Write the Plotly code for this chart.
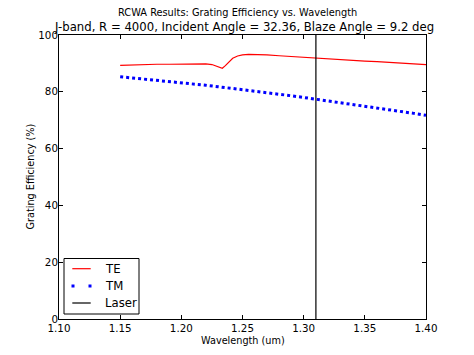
import plotly.graph_objects as go

te_wl = [1.15, 1.16, 1.17, 1.18, 1.19, 1.20, 1.21, 1.22, 1.225, 1.228, 1.231, 1.2335,
         1.236, 1.239, 1.242, 1.246, 1.25, 1.255, 1.26, 1.27, 1.28, 1.29, 1.30, 1.31,
         1.32, 1.33, 1.34, 1.35, 1.36, 1.37, 1.38, 1.39, 1.40]
te_eff = [89.3, 89.5, 89.6, 89.7, 89.7, 89.8, 89.8, 89.8, 89.6, 89.2, 88.6, 88.3,
          89.2, 90.6, 91.8, 92.6, 93.0, 93.2, 93.2, 93.0, 92.7, 92.4, 92.1, 91.8,
          91.5, 91.3, 91.1, 90.8, 90.6, 90.4, 90.1, 89.9, 89.6]

tm_wl = [1.15, 1.16, 1.17, 1.18, 1.19, 1.20, 1.21, 1.22, 1.23, 1.24, 1.25, 1.26, 1.27,
         1.28, 1.29, 1.30, 1.31, 1.32, 1.33, 1.34, 1.35, 1.36, 1.37, 1.38, 1.39, 1.40]
tm_eff = [85.3, 84.9, 84.5, 84.0, 83.6, 83.2, 82.7, 82.3, 81.8, 81.3, 80.8, 80.3, 79.7,
          79.2, 78.6, 78.0, 77.4, 76.8, 76.2, 75.6, 75.0, 74.4, 73.7, 73.0, 72.4, 71.7]

laser_wl = [1.31, 1.31]
laser_eff = [0, 100]

series_names = ["TE", "TM", "Laser"]

x_ticks = [1.10, 1.15, 1.20, 1.25, 1.30, 1.35, 1.40]
x_ticklabels = ["1.10", "1.15", "1.20", "1.25", "1.30", "1.35", "1.40"]
y_ticks = [0, 20, 40, 60, 80, 100]

FONT = "DejaVu Sans"
W, H = 474, 355
ML, MR, MT, MB = 59, 48, 35, 36

styles = [
    dict(color="#ff0000", width=1.2),
    dict(color="#0000ff", width=3, dash="dot"),
    dict(color="black", width=1.2),
]

fig = go.Figure()
for name, xs, ys, st in zip(series_names, [te_wl, tm_wl, laser_wl],
                            [te_eff, tm_eff, laser_eff], styles):
    fig.add_trace(go.Scatter(x=xs, y=ys, mode="lines", name=name, line=st,
                             showlegend=False))

axis_common = dict(showline=True, linecolor="black", linewidth=1, mirror="ticks",
                   ticks="inside", ticklen=4, tickcolor="black", showgrid=False,
                   zeroline=False, tickfont=dict(family=FONT, size=10.3, color="black"))

fig.update_layout(
    width=W, height=H,
    margin=dict(l=ML, r=MR, t=MT, b=MB),
    paper_bgcolor="white", plot_bgcolor="white",
    font=dict(family=FONT, color="black"),
    showlegend=False,
    xaxis=dict(range=[1.10, 1.40], tickvals=x_ticks, ticktext=x_ticklabels, **axis_common),
    yaxis=dict(range=[0, 100], tickvals=y_ticks, ticklabelstandoff=-2, **axis_common),
)

pw, ph = W - ML - MR, H - MT - MB
def px(x):
    return (x - ML) / pw
def py(y):
    return (H - MB - y) / ph

def label(text, x, y, size, angle=0, xanchor="center"):
    fig.add_annotation(text=text, x=px(x), y=py(y), xref="paper", yref="paper",
                       xanchor=xanchor, yanchor="middle", showarrow=False,
                       textangle=angle, font=dict(family=FONT, size=size, color="black"))

label("RCWA Results: Grating Efficiency vs. Wavelength", 237, 12, 9.8)
label("J-band, R = 4000, Incident Angle = 32.36, Blaze Angle = 9.2 deg", 243.5, 27, 11.7)
label("Wavelength (um)", 242.5, 340, 9.7)
label("Grating Efficiency (%)", 29.5, 177, 9.7, angle=-90)

# legend box (matplotlib style)
fig.add_shape(type="rect", xref="paper", yref="paper",
              x0=px(64), x1=px(139), y0=py(314), y1=py(258.5),
              line=dict(color="black", width=1), fillcolor="white", layer="above")
legend_rows = [268.7, 286.0, 303.0]
legend_dash = ["solid", "3px,14px", "solid"]
legend_x = [(72.3, 90.7), (71.5, 91.5), (72.3, 90.7)]
for name, row, st, dash, (lx0, lx1) in zip(series_names, legend_rows, styles,
                                          legend_dash, legend_x):
    fig.add_shape(type="line", xref="paper", yref="paper",
                  x0=px(lx0), x1=px(lx1), y0=py(row), y1=py(row),
                  line=dict(color=st["color"], width=st["width"], dash=dash),
                  layer="above")
    label(name, 102.7, row, 11.7, xanchor="left")

fig.write_html("out.html", config={"displayModeBar": False},
               post_script="document.body.style.margin='0';")
